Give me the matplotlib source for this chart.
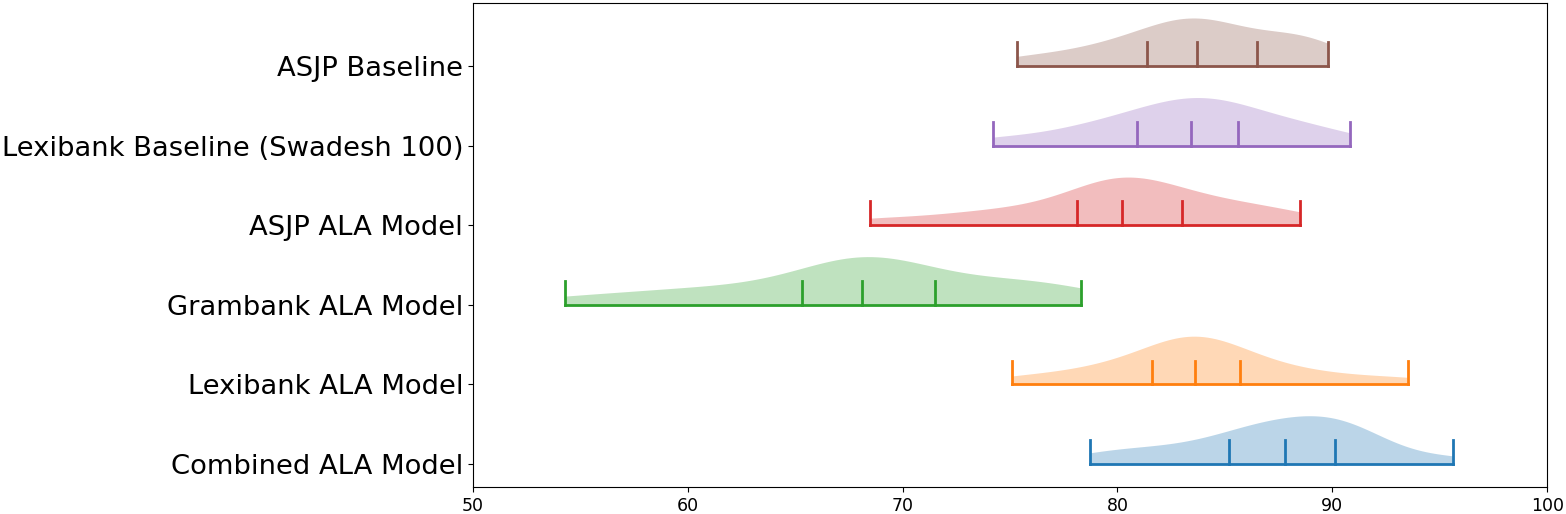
import matplotlib
matplotlib.use("Agg")
import matplotlib.pyplot as plt

# model names, bottom to top
models = ['Combined ALA Model', 'Lexibank ALA Model', 'Grambank ALA Model',
          'ASJP ALA Model', 'Lexibank Baseline (Swadesh 100)', 'ASJP Baseline']

# accuracy scores (%) per model, estimated from the figure
combined_ala = [78.7, 80.4, 81.9, 83.3, 84.6, 85.4, 86.0, 86.7, 87.2, 87.6,
                88.0, 89.0, 89.4, 89.7, 89.9, 90.7, 91.0, 91.4, 92.4, 95.6]
lexibank_ala = [75.1, 77.5, 79.0, 80.2, 81.0, 81.8, 82.4, 82.9, 83.2, 83.5,
                83.7, 84.0, 84.5, 85.0, 85.5, 86.3, 87.3, 88.6, 90.6, 93.5]
grambank_ala = [54.3, 57.8, 60.0, 61.9, 63.6, 65.9, 66.8, 67.4, 67.8, 68.0,
                68.2, 69.2, 69.7, 70.2, 70.8, 73.6, 74.5, 75.7, 77.0, 78.3]
asjp_ala = [68.5, 72.0, 74.0, 75.6, 76.9, 78.5, 79.2, 79.6, 79.9, 80.1,
            80.3, 80.8, 81.4, 82.0, 82.8, 83.6, 84.6, 85.8, 87.0, 88.5]
lexibank_base = [74.2, 76.9, 78.4, 79.5, 80.3, 81.1, 81.8, 82.4, 82.8, 83.1,
                 83.7, 84.5, 84.9, 85.1, 85.3, 86.5, 87.3, 88.1, 89.1, 90.8]
asjp_base = [75.3, 77.5, 79.0, 80.0, 81.0, 81.5, 82.2, 82.8, 83.2, 83.5,
             83.9, 84.4, 84.9, 85.5, 86.2, 87.4, 88.0, 88.6, 89.2, 89.8]

scores = [combined_ala, lexibank_ala, grambank_ala, asjp_ala, lexibank_base, asjp_base]
cores = ['tab:blue', 'tab:orange', 'tab:green', 'tab:red', 'tab:purple', 'tab:brown']

fig = plt.figure(figsize=(15.66, 5.14), dpi=100)
ax = fig.add_axes([0.302, 0.0525, 0.686, 0.9425])

for i, (dados, cor) in enumerate(zip(scores, cores)):
    partes = ax.violinplot([dados], positions=[i + 1], widths=1.2,
                           orientation='horizontal', side='high',
                           quantiles=[[0.25, 0.5, 0.75]], bw_method=0.45)
    for corpo in partes['bodies']:
        corpo.set_facecolor(cor)
        corpo.set_edgecolor('none')
        corpo.set_alpha(0.3)
    for chave in ['cmins', 'cmaxes', 'cbars', 'cquantiles']:
        partes[chave].set_color(cor)
        partes[chave].set_linewidth(2)

ax.set_yticks(range(1, len(models) + 1))
ax.set_yticklabels(models, fontsize=19.7)
ax.tick_params(axis='x', labelsize=12.5)
ax.set_xlim(50, 100)
ax.set_ylim(0.71, 6.80)

plt.savefig('out.png', dpi=100)
